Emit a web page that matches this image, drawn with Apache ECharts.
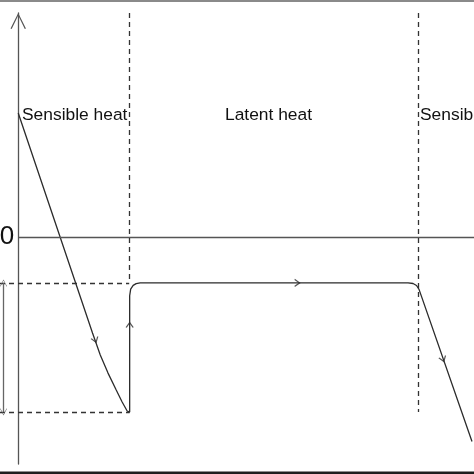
<!DOCTYPE html>
<html>
<head>
<meta charset="utf-8">
<script src="https://cdn.jsdelivr.net/npm/echarts@6/dist/echarts.min.js"></script>
<style>
  html, body { margin: 0; padding: 0; background: #fff; }
  #chart { width: 474px; height: 474px; }
</style>
</head>
<body>
<div id="chart"></div>
<script>
// heating / cooling path: heat (x) against temperature (y)
const heatPts = [0, 16.3, 18.0, 19.7, 21.5, 22.8, 23.9, 24.45, 24.45, 24.67, 25.22, 25.88, 26.75, 85.53, 86.62, 87.39, 87.94, 99.56];
const tempPts = [10.53, -8.11, -9.97, -11.5, -12.93, -13.95, -14.71, -14.8, -4.95, -4.38, -4.07, -3.92, -3.86, -3.86, -3.91, -4.08, -4.41, -17.3];

// little direction arrows on the path
const arrowHeat = [16.9, 24.45, 61.2, 93.2];
const arrowTemp = [-8.69, -7.43, -3.86, -10.31];
const arrowAngle = [19, 180, 90, 19];

// phase boundaries and levels
const boundLeft = 24.35;
const boundRight = 87.7;
const levelFreeze = -3.86;
const levelLow = -14.8;
const tempTop = 19;
const heatMin = -4;
const heatMax = 100;
const spanHeat = -3.23;

const regionNames = ['Sensible heat', 'Latent heat', 'Sensible heat'];

const curveData = heatPts.map((h, i) => [h, tempPts[i]]);
const arrowData = arrowHeat.map((h, i) => ({ value: [h, arrowTemp[i]], symbolRotate: arrowAngle[i] }));

const chevronUp = 'path://M0,16L8,0L16,16L14.8,16.6L8,2.6L1.2,16.6Z';

const chart = echarts.init(document.getElementById('chart'));
const dashed = { color: '#333', type: [5, 4], width: 1.3 };
const font = '17.4px "Liberation Sans"';

chart.setOption({
    animation: false,
    grid: { left: 0, right: 0, top: 13, bottom: 10, outerBoundsMode: 'none', containLabel: false },
    xAxis: {
        type: 'value',
        min: heatMin,
        max: heatMax,
        axisLine: { show: false },
        axisTick: { show: false },
        axisLabel: { show: false },
        splitLine: { show: false }
    },
    yAxis: {
        type: 'value',
        min: -19.2,
        max: tempTop,
        position: 'left',
        // moved in from the grid edge to sit at heat = 0
        offset: -18.23,
        axisLine: {
            show: true,
            onZero: false,
            symbol: ['none', chevronUp],
            symbolSize: [16, 16],
            symbolOffset: [0, -8],
            lineStyle: { color: '#555', width: 1.3 }
        },
        axisTick: { show: false },
        axisLabel: {
            customValues: [0],
            formatter: '{value}',
            fontSize: 26,
            fontFamily: 'Liberation Sans',
            color: '#111',
            margin: 4
        },
        splitLine: { show: false }
    },
    series: [{
        type: 'line',
        data: curveData,
        symbol: 'none',
        clip: false,
        lineStyle: { color: '#2b2b2b', width: 1.3 },
        markLine: {
            silent: true,
            symbol: 'none',
            label: { show: false },
            lineStyle: dashed,
            data: [
                // zero temperature line
                [
                    { coord: [0, 0], lineStyle: { color: '#555', type: 'solid', width: 1.3 } },
                    { coord: [heatMax, 0] }
                ],
                [{ coord: [boundLeft, tempTop] }, { coord: [boundLeft, levelFreeze] }],
                [{ coord: [boundRight, tempTop] }, { coord: [boundRight, levelLow] }],
                [{ coord: [heatMin, levelFreeze] }, { coord: [boundLeft, levelFreeze] }],
                [{ coord: [heatMin, levelLow] }, { coord: [24.45, levelLow] }],
                [
                    {
                        coord: [spanHeat, levelFreeze],
                        symbol: chevronUp,
                        symbolSize: 7,
                        lineStyle: { color: '#666', type: 'solid', width: 1.3 }
                    },
                    { coord: [spanHeat, levelLow], symbol: chevronUp, symbolSize: 7 }
                ]
            ]
        }
    }, {
        type: 'scatter',
        data: arrowData,
        symbol: 'path://M0,0L5,6L10,0',
        symbolSize: [7, 5],
        clip: false,
        itemStyle: { color: 'rgba(0,0,0,0)', borderColor: '#2b2b2b', borderWidth: 1.1 }
    }],
    graphic: [
        { type: 'rect', shape: { x: 0, y: 0, width: 474, height: 2 }, style: { fill: '#8a8a8a' } },
        { type: 'rect', shape: { x: 0, y: 471.5, width: 474, height: 3 }, style: { fill: '#1e1e1e' } },
        { type: 'text', x: 22, y: 107, style: { text: regionNames[0], font: font, fill: '#111' } },
        { type: 'text', x: 225, y: 107, style: { text: regionNames[1], font: font, fill: '#111' } },
        { type: 'text', x: 420, y: 107, style: { text: regionNames[2], font: font, fill: '#111' } }
    ]
});
</script>
</body>
</html>
